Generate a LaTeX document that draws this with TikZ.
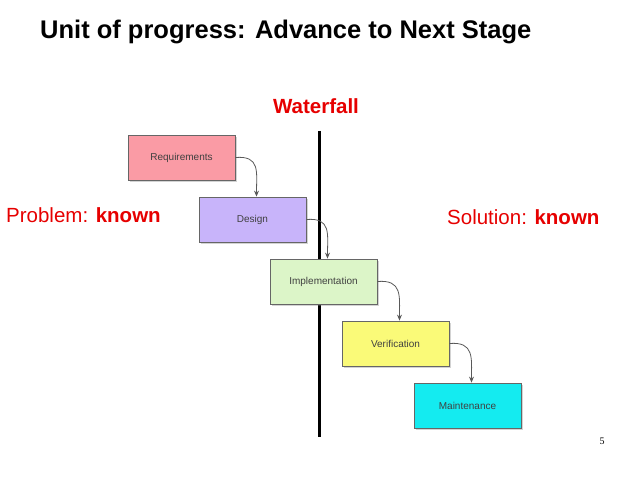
\documentclass[tikz,border=0pt]{standalone}
\usepackage{fontspec}
\setmainfont{Liberation Sans}
\newfontfamily\serifnum{Liberation Serif}
\usetikzlibrary{shadows,arrows.meta}
\begin{document}
\begin{tikzpicture}[x=1pt,y=-1pt,
  stage/.style={draw=black!60,line width=0.8pt,minimum width=107pt,minimum height=45pt,inner sep=0pt,font=\fontsize{10}{12}\selectfont,text=black!75,drop shadow={opacity=0.35,shadow xshift=1.5pt,shadow yshift=-2pt}},
  flow/.style={draw=black!65,line width=0.8pt,-{Stealth[length=6pt,width=5pt]}},
  red/.style={text={rgb,255:red,230;green,0;blue,0}}]
\useasboundingbox (0,0) rectangle (638,478);
\node[anchor=west,inner sep=0pt,font=\bfseries\fontsize{25.5}{30}\selectfont] (title) at (40,32) {Unit of progress: Advance to Next Stage};
\node[red,font=\bfseries\fontsize{20.5}{24}\selectfont] (wf) at (316,106) {Waterfall};
\coordinate (lt) at (319,131);
\coordinate (lb) at (319,437);
\draw[line width=3pt] (lt) -- (lb);
\node[anchor=west,inner sep=0pt,red,font=\fontsize{20.5}{24}\selectfont] (prob) at (6,215) {Problem: \textbf{known}};
\node[anchor=west,inner sep=0pt,red,font=\fontsize{20.5}{24}\selectfont] (sol) at (447,217) {Solution: \textbf{known}};
\node[stage,fill={rgb,255:red,250;green,155;blue,165}] (req) at (181.5,157.5) {Requirements};
\node[stage,fill={rgb,255:red,200;green,180;blue,250}] (des) at (252.5,219.5) {Design};
\node[stage,fill={rgb,255:red,220;green,245;blue,200}] (imp) at (323.5,281.5) {Implementation};
\node[stage,fill={rgb,255:red,250;green,250;blue,120}] (ver) at (395.5,343.5) {Verification};
\node[stage,fill={rgb,255:red,20;green,235;blue,240}] (mai) at (467.5,405.5) {Maintenance};
\draw[flow] (req.east) .. controls ++(25,-2) and ++(0,-25) .. ([xshift=4pt]des.north);
\draw[flow] (des.east) .. controls ++(25,-2) and ++(0,-25) .. ([xshift=4pt]imp.north);
\draw[flow] (imp.east) .. controls ++(25,-2) and ++(0,-25) .. ([xshift=4pt]ver.north);
\draw[flow] (ver.east) .. controls ++(25,-2) and ++(0,-25) .. ([xshift=4pt]mai.north);
\node[font=\serifnum\fontsize{10}{12}\selectfont] (pg) at (602,441) {5};
\end{tikzpicture}
\end{document}
